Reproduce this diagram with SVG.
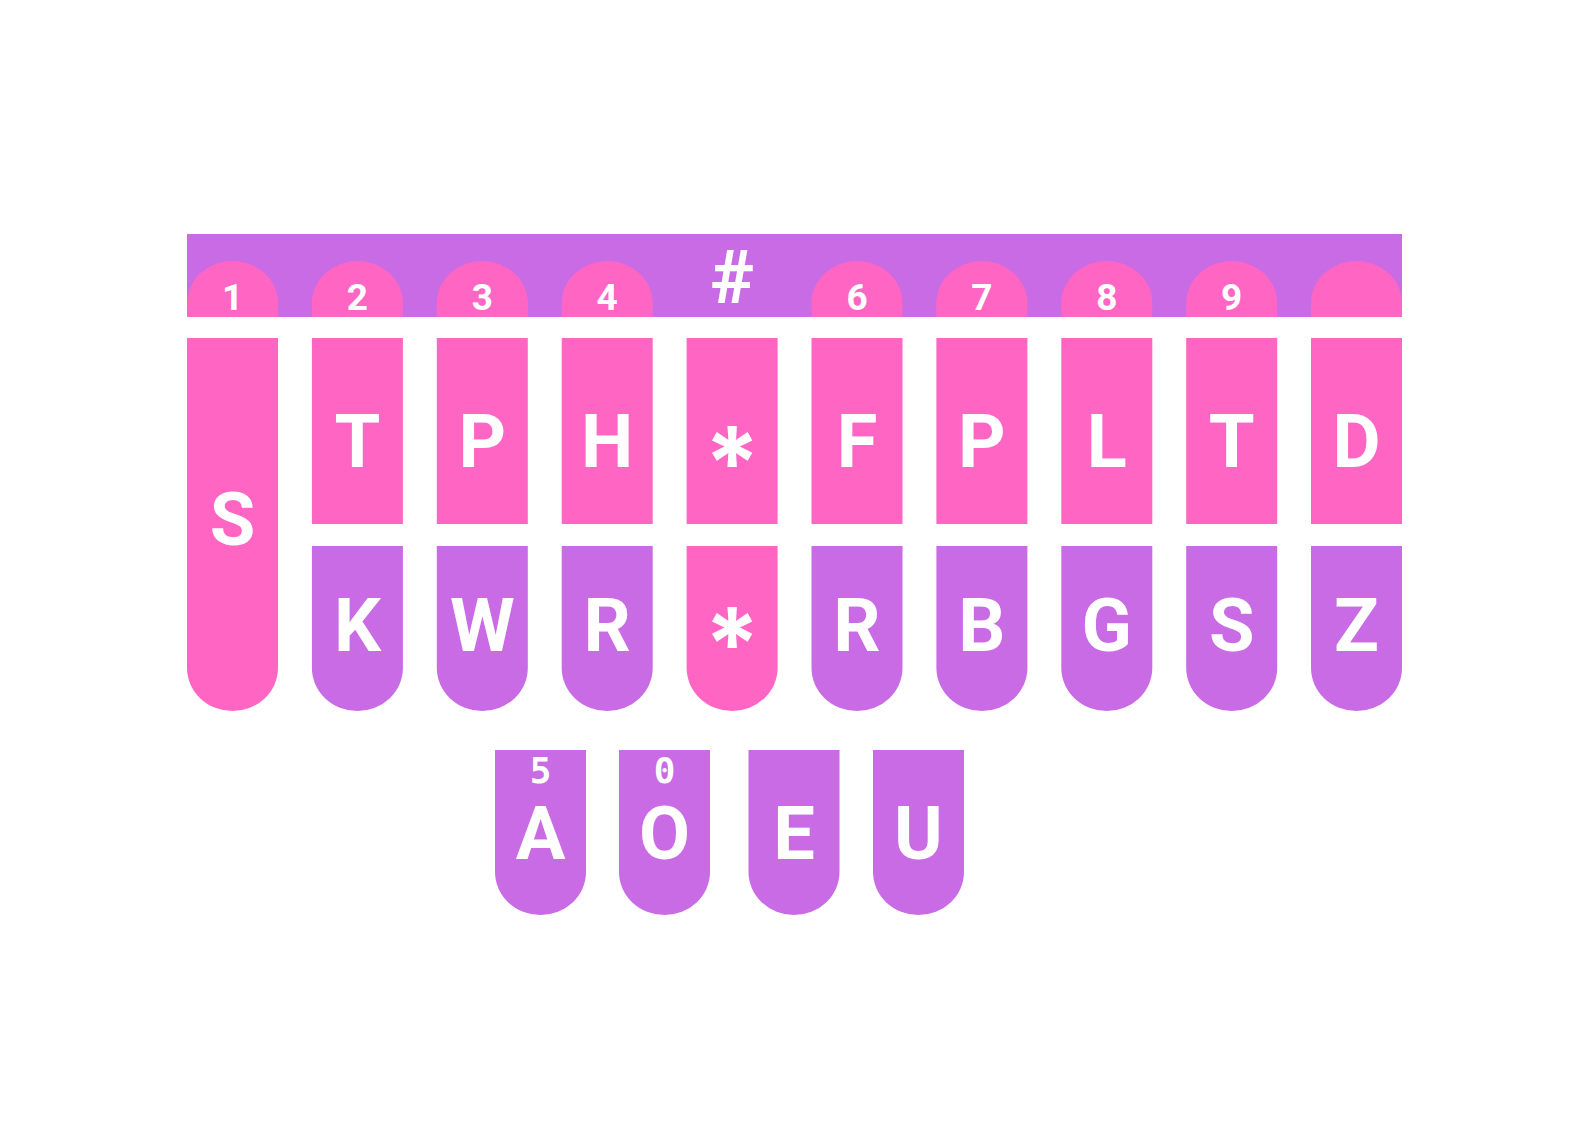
<svg xmlns="http://www.w3.org/2000/svg" width="1588" height="1123" viewBox="0 0 1588 1123">
<style>
.pk{fill:#FF66C4}
.pu{fill:#C86BE5}
.L{font-family:Roboto,"Liberation Sans",sans-serif;font-weight:700;font-size:74px;fill:#fff;text-anchor:middle}
.N{font-family:Roboto,"Liberation Sans",sans-serif;font-weight:700;font-size:37px;fill:#fff;text-anchor:middle}
.M{font-family:"DejaVu Sans Mono","Liberation Mono",monospace;font-weight:700;font-size:36px;fill:#fff;text-anchor:middle}
.A{font-family:Inter,"DejaVu Sans",sans-serif;font-weight:700;font-size:100px;fill:#fff;text-anchor:middle}
</style>
<rect width="1588" height="1123" fill="#fff"/>
<g id="number-bar">
<rect class="pu" x="187" y="234" width="1215" height="83"/>
<path class="pk" d="M187,317V303A45.5,42 0 0 1 278,303V317Z"/>
<path class="pk" d="M311.9,317V303A45.5,42 0 0 1 402.9,303V317Z"/>
<path class="pk" d="M436.8,317V303A45.5,42 0 0 1 527.8,303V317Z"/>
<path class="pk" d="M561.7,317V303A45.5,42 0 0 1 652.7,303V317Z"/>
<path class="pk" d="M811.5,317V303A45.5,42 0 0 1 902.5,303V317Z"/>
<path class="pk" d="M936.4,317V303A45.5,42 0 0 1 1027.4,303V317Z"/>
<path class="pk" d="M1061.3,317V303A45.5,42 0 0 1 1152.3,303V317Z"/>
<path class="pk" d="M1186.2,317V303A45.5,42 0 0 1 1277.2,303V317Z"/>
<path class="pk" d="M1311,317V303A45.5,42 0 0 1 1402,303V317Z"/>
<text class="N" x="232.5" y="310">1</text>
<text class="N" x="357.4" y="310">2</text>
<text class="N" x="482.3" y="310">3</text>
<text class="N" x="607.2" y="310">4</text>
<text class="L" x="732.1" y="303">#</text>
<text class="N" x="857" y="310">6</text>
<text class="N" x="981.9" y="310">7</text>
<text class="N" x="1106.8" y="310">8</text>
<text class="N" x="1231.7" y="310">9</text>
</g>
<g id="key-S"><path class="pk" d="M187,338H278V668A45.5,43 0 0 1 187,668Z"/><text class="L" x="232.5" y="545">S</text></g>
<g id="key-T"><rect class="pk" x="311.9" y="338" width="91" height="186"/><text class="L" x="357.4" y="467">T</text></g>
<g id="key-P"><rect class="pk" x="436.8" y="338" width="91" height="186"/><text class="L" x="482.3" y="467">P</text></g>
<g id="key-H"><rect class="pk" x="561.7" y="338" width="91" height="186"/><text class="L" x="607.2" y="467">H</text></g>
<g id="key-star-top"><rect class="pk" x="686.6" y="338" width="91" height="186"/><text class="A" x="732.1" y="499">*</text></g>
<g id="key-F"><rect class="pk" x="811.5" y="338" width="91" height="186"/><text class="L" x="857" y="467">F</text></g>
<g id="key-P2"><rect class="pk" x="936.4" y="338" width="91" height="186"/><text class="L" x="981.9" y="467">P</text></g>
<g id="key-L"><rect class="pk" x="1061.3" y="338" width="91" height="186"/><text class="L" x="1106.8" y="467">L</text></g>
<g id="key-T2"><rect class="pk" x="1186.2" y="338" width="91" height="186"/><text class="L" x="1231.7" y="467">T</text></g>
<g id="key-D"><rect class="pk" x="1311" y="338" width="91" height="186"/><text class="L" x="1356.5" y="467">D</text></g>
<g id="key-K"><path class="pu" d="M311.9,546H402.9V668A45.5,43 0 0 1 311.9,668Z"/><text class="L" x="357.4" y="651">K</text></g>
<g id="key-W"><path class="pu" d="M436.8,546H527.8V668A45.5,43 0 0 1 436.8,668Z"/><text class="L" x="482.3" y="651">W</text></g>
<g id="key-R"><path class="pu" d="M561.7,546H652.7V668A45.5,43 0 0 1 561.7,668Z"/><text class="L" x="607.2" y="651">R</text></g>
<g id="key-star-bottom"><path class="pk" d="M686.6,546H777.6V668A45.5,43 0 0 1 686.6,668Z"/><text class="A" x="732.1" y="680">*</text></g>
<g id="key-R2"><path class="pu" d="M811.5,546H902.5V668A45.5,43 0 0 1 811.5,668Z"/><text class="L" x="857" y="651">R</text></g>
<g id="key-B"><path class="pu" d="M936.4,546H1027.4V668A45.5,43 0 0 1 936.4,668Z"/><text class="L" x="981.9" y="651">B</text></g>
<g id="key-G"><path class="pu" d="M1061.3,546H1152.3V668A45.5,43 0 0 1 1061.3,668Z"/><text class="L" x="1106.8" y="651">G</text></g>
<g id="key-S2"><path class="pu" d="M1186.2,546H1277.2V668A45.5,43 0 0 1 1186.2,668Z"/><text class="L" x="1231.7" y="651">S</text></g>
<g id="key-Z"><path class="pu" d="M1311,546H1402V668A45.5,43 0 0 1 1311,668Z"/><text class="L" x="1356.5" y="651">Z</text></g>
<g id="key-A"><path class="pu" d="M495,750H586V872A45.5,43 0 0 1 495,872Z"/><text class="M" x="540.5" y="783">5</text><text class="L" x="540.5" y="859">A</text></g>
<g id="key-O"><path class="pu" d="M619,750H710V872A45.5,43 0 0 1 619,872Z"/><text class="M" x="664.5" y="783">0</text><text class="L" x="664.5" y="859">O</text></g>
<g id="key-E"><path class="pu" d="M748.5,750H839.5V872A45.5,43 0 0 1 748.5,872Z"/><text class="L" x="794" y="859">E</text></g>
<g id="key-U"><path class="pu" d="M873,750H964V872A45.5,43 0 0 1 873,872Z"/><text class="L" x="918.5" y="859">U</text></g>
<g id="connectors"/>
</svg>
